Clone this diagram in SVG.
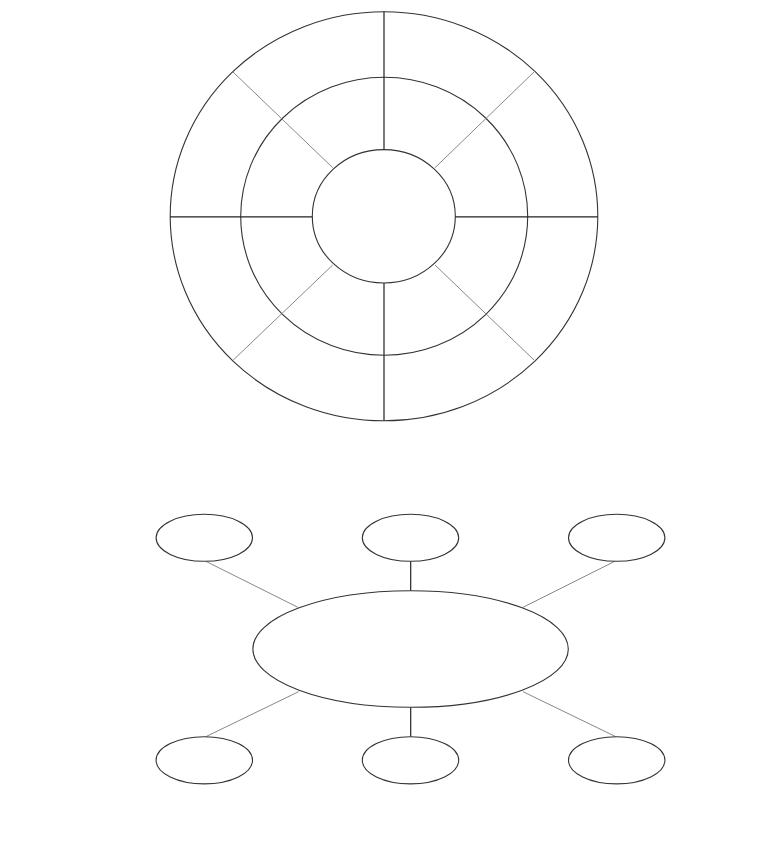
<svg xmlns="http://www.w3.org/2000/svg" width="768" height="866" viewBox="0 0 768 866">
<style>
.ring{fill:none;stroke:#333;stroke-width:1.1}
.node{fill:#fff;stroke:#333;stroke-width:1.1}
.axis{stroke:#222;stroke-width:1.2}
.diag{stroke:#888;stroke-width:1}
</style>
<rect width="768" height="866" fill="#fff"/>
<g id="wheel">
<ellipse class="ring" cx="384" cy="216.3" rx="213.8" ry="204.5"/>
<ellipse class="ring" cx="384.2" cy="216.3" rx="143.5" ry="139"/>
<ellipse class="ring" cx="383.8" cy="216.3" rx="71.5" ry="66.7"/>
<line class="axis" x1="384" y1="11.8" x2="384" y2="149.6"/>
<line class="axis" x1="384" y1="283" x2="384" y2="420.8"/>
<line class="axis" x1="170.2" y1="216.8" x2="312.3" y2="216.8"/>
<line class="axis" x1="455.3" y1="216.8" x2="597.8" y2="216.8"/>
<line class="diag" x1="232.7" y1="71.7" x2="332.7" y2="167.7"/>
<line class="diag" x1="534.3" y1="71.7" x2="435" y2="167.7"/>
<line class="diag" x1="233.3" y1="360" x2="332.7" y2="265"/>
<line class="diag" x1="534" y1="360" x2="435" y2="265"/>
</g>
<g id="connectors">
<line class="diag" x1="205.8" y1="561.3" x2="297.9" y2="607.3"/>
<line class="axis" x1="410.7" y1="561.3" x2="410.7" y2="590.7"/>
<line class="diag" x1="614.8" y1="561.3" x2="523" y2="607.3"/>
<line class="diag" x1="298.6" y1="691.7" x2="205.8" y2="736.7"/>
<line class="axis" x1="410.7" y1="707.3" x2="410.7" y2="736.7"/>
<line class="diag" x1="523" y1="691.7" x2="615.8" y2="736.7"/>
</g>
<g id="center"><ellipse class="node" cx="410.6" cy="649" rx="157.7" ry="58.3"/></g>
<g id="n1"><ellipse class="node" cx="204.3" cy="537.8" rx="48.2" ry="23.5"/></g>
<g id="n2"><ellipse class="node" cx="410.5" cy="537.8" rx="48.2" ry="23.5"/></g>
<g id="n3"><ellipse class="node" cx="616.7" cy="537.8" rx="48.2" ry="23.5"/></g>
<g id="n4"><ellipse class="node" cx="204.3" cy="760.3" rx="48.2" ry="23.6"/></g>
<g id="n5"><ellipse class="node" cx="410.5" cy="760.3" rx="48.2" ry="23.6"/></g>
<g id="n6"><ellipse class="node" cx="616.7" cy="760.3" rx="48.2" ry="23.6"/></g>
</svg>
